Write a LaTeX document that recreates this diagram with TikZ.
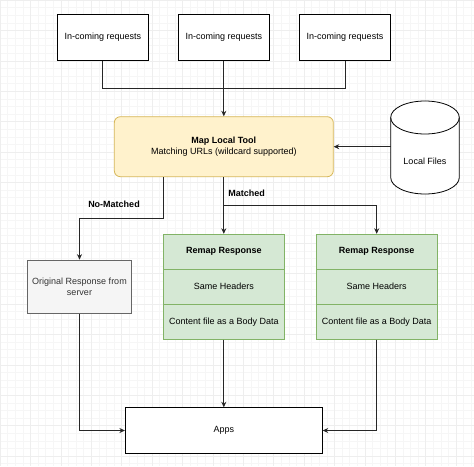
\documentclass[tikz,border=0pt]{standalone}
\usepackage{fontspec}
\setmainfont{Liberation Sans}
\usetikzlibrary{arrows.meta,calc}
\definecolor{mapfill}{HTML}{FFF2CC}
\definecolor{mapdraw}{HTML}{D6B656}
\definecolor{grnfill}{HTML}{D5E8D4}
\definecolor{grndraw}{HTML}{82B366}
\definecolor{grayfill}{HTML}{F5F5F5}
\definecolor{graydraw}{HTML}{666666}
\definecolor{graytext}{HTML}{333333}
\definecolor{gridminor}{HTML}{F6F6F6}
\definecolor{gridmajor}{HTML}{EEEEEE}
\tikzset{
  every node/.style={font=\fontsize{9}{10.5}\selectfont},
  plainbox/.style={draw=black, line width=0.8pt, fill=white, inner sep=0pt, align=center},
  mapbox/.style={draw=mapdraw, fill=mapfill, line width=0.8pt, rounded corners=6pt, inner sep=0pt, align=center},
  grnbox/.style={draw=grndraw, fill=grnfill, line width=0.8pt, inner sep=0pt, minimum width=120.5pt, minimum height=35pt, align=center},
  origbox/.style={draw=graydraw, fill=grayfill, text=graytext, line width=0.8pt, inner sep=0pt, align=center},
  conn/.style={draw=black!85, line width=0.8pt},
  arr/.style={conn, -{Stealth[length=5.5pt,width=5pt]}},
  lbl/.style={font=\fontsize{9}{10.5}\selectfont\bfseries}
}
\begin{document}
\begin{tikzpicture}[x=1pt,y=-1pt]
\useasboundingbox (0,0) rectangle (474,466);
\fill[white] (0,0) rectangle (474,466);
% faint background grid
\foreach \i in {0,...,62} {
  \draw[gridminor, line width=0.4pt] ({\i*7.6},0) -- ({\i*7.6},466);
  \draw[gridminor, line width=0.4pt] (0,{\i*7.6}) -- (474,{\i*7.6});
}
\foreach \i in {0,...,15} {
  \draw[gridmajor, line width=0.4pt] ({\i*30.4},0) -- ({\i*30.4},466);
  \draw[gridmajor, line width=0.4pt] (0,{\i*30.4}) -- (474,{\i*30.4});
}

% incoming requests
\node[plainbox, minimum width=91pt, minimum height=46pt] (in1) at (102.8,37.3) {In-coming requests};
\node[plainbox, minimum width=91pt, minimum height=46pt] (in2) at (223.8,37.3) {In-coming requests};
\node[plainbox, minimum width=91pt, minimum height=46pt] (in3) at (345,37.3) {In-coming requests};

% map local tool
\node[mapbox, minimum width=219pt, minimum height=60pt] (map) at (223.8,146.7)
  {\textbf{Map Local Tool}\\Matching URLs (wildcard supported)};

% local files cylinder
\node[inner sep=0pt, minimum width=68.6pt, minimum height=93pt] (lf) at (425,146.7) {};
\filldraw[fill=white, draw=black, line width=0.8pt]
  (390.7,117.5) -- (390.7,177.5) arc[start angle=180, end angle=360, x radius=34.3, y radius=-16.5]
  -- (459.3,117.5) arc[start angle=0, end angle=180, x radius=34.3, y radius=-16.5] -- cycle;
\draw[line width=0.8pt] (390.7,117.5) arc[start angle=180, end angle=360, x radius=34.3, y radius=-16.5];
\node (lft) at (425,161.2) {Local Files};

% original response
\node[origbox, minimum width=104.4pt, minimum height=53.3pt] (orig) at (79.5,286.7)
  {Original Response from\\server};

% remap responses
\node[grnbox] (r1a) at (223.8,251.7) {\textbf{Remap Response}};
\node[grnbox] (r1b) at (223.8,286.7) {Same Headers};
\node[grnbox] (r1c) at (223.8,321.7) {Content file as a Body Data};
\node[grnbox] (r2a) at (376.7,251.7) {\textbf{Remap Response}};
\node[grnbox] (r2b) at (376.7,286.7) {Same Headers};
\node[grnbox] (r2c) at (376.7,321.7) {Content file as a Body Data};

% apps
\node[plainbox, minimum width=197pt, minimum height=45.6pt] (apps) at (223.8,430.5) {Apps};

% connectors
\coordinate (mrg) at (223.8,88.3);
\draw[conn] (in1.south) |- (mrg) -| (in3.south);
\draw[arr] (in2.south) -- (map.north);
\draw[arr] (lf.west) -- (map.east |- lf.west);

\coordinate (nm) at (163.3,218.3);
\draw[arr] (map.south -| nm) -- (nm) -| (orig.north);
\node[lbl] (nmlbl) at (114,204.3) {No-Matched};

\coordinate (mb) at (223.8,205.7);
\draw[arr] (map.south) -- (r1a.north);
\draw[arr] (mb) -| (r2a.north);
\node[lbl] (mlbl) at (246.7,193.7) {Matched};

\draw[arr] (orig.south) |- (apps.west);
\draw[arr] (r1c.south) -- (apps.north);
\draw[arr] (r2c.south) |- (apps.east);
\end{tikzpicture}
\end{document}
